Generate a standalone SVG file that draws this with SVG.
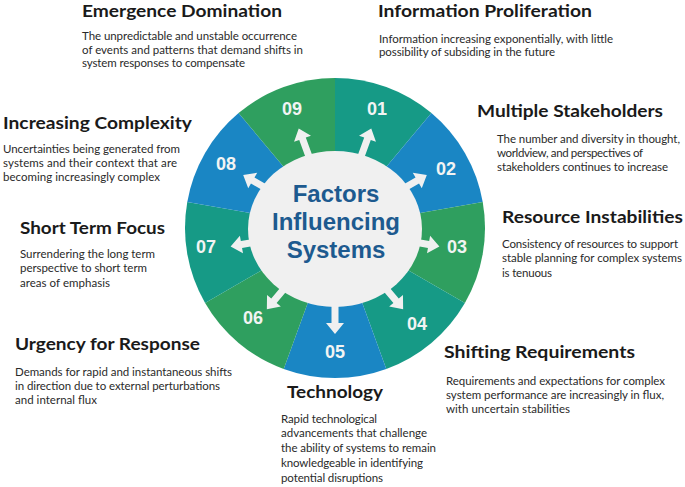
<svg xmlns="http://www.w3.org/2000/svg" width="685" height="487" viewBox="0 0 685 487">
<style>
.teal{fill:#169a86}
.blue{fill:#1a86c4}
.green{fill:#2f9f5f}
.hub{fill:#f0f0f0}
.num{font-family:"Liberation Sans",Arial,sans-serif;font-weight:bold;font-size:18px;fill:#f2f4f3;text-anchor:middle}
.ctr{font-family:"Liberation Sans",Arial,sans-serif;font-weight:bold;font-size:24px;fill:#1d5a8f;text-anchor:middle}
.ttl{font-family:Lato,"Open Sans",sans-serif;font-weight:bold;font-size:17px;fill:#1a1a1a}
.body{font-family:Lato,"Open Sans",sans-serif;font-size:11.5px;fill:#2a2a2a}
</style>
<defs>
<path id="arr" d="M-3.5,-60 L-3.5,-95 L-9,-95 L0,-106 L9,-95 L3.5,-95 L3.5,-60 Z" class="hub"/>
</defs>
<rect width="685" height="487" fill="#ffffff"/>
<g id="wheel">
<path class="teal" d="M335,228 L335,78 A150,150 0 0 1 431.42,113.10 Z"/>
<path class="blue" d="M335,228 L431.42,113.10 A150,150 0 0 1 482.72,201.95 Z"/>
<path class="green" d="M335,228 L482.72,201.95 A150,150 0 0 1 464.90,303 Z"/>
<path class="teal" d="M335,228 L464.90,303 A150,150 0 0 1 386.30,368.95 Z"/>
<path class="blue" d="M335,228 L386.30,368.95 A150,150 0 0 1 283.70,368.95 Z"/>
<path class="green" d="M335,228 L283.70,368.95 A150,150 0 0 1 205.10,303 Z"/>
<path class="teal" d="M335,228 L205.10,303 A150,150 0 0 1 187.28,201.95 Z"/>
<path class="blue" d="M335,228 L187.28,201.95 A150,150 0 0 1 238.58,113.10 Z"/>
<path class="green" d="M335,228 L238.58,113.10 A150,150 0 0 1 335,78 Z"/>
</g>
<g id="connectors">
<use href="#arr" transform="translate(335,228) rotate(20)"/>
<use href="#arr" transform="translate(335,228) rotate(60)"/>
<use href="#arr" transform="translate(335,228) rotate(100)"/>
<use href="#arr" transform="translate(335,228) rotate(140)"/>
<use href="#arr" transform="translate(335,228) rotate(180)"/>
<use href="#arr" transform="translate(335,228) rotate(220)"/>
<use href="#arr" transform="translate(335,228) rotate(260)"/>
<use href="#arr" transform="translate(335,228) rotate(300)"/>
<use href="#arr" transform="translate(335,228) rotate(340)"/>
</g>
<g id="hub">
<ellipse class="hub" cx="335" cy="229" rx="87" ry="78"/>
<text class="ctr" x="336" y="202">Factors</text>
<text class="ctr" x="336" y="230">Influencing</text>
<text class="ctr" x="336" y="258">Systems</text>
</g>
<g id="labels">
<text class="num" x="377" y="114.5">01</text>
<text class="num" x="446" y="174.5">02</text>
<text class="num" x="457" y="253">03</text>
<text class="num" x="417" y="329.5">04</text>
<text class="num" x="335" y="358">05</text>
<text class="num" x="253" y="323.5">06</text>
<text class="num" x="206" y="253">07</text>
<text class="num" x="226" y="169.5">08</text>
<text class="num" x="292" y="114.5">09</text>
</g>
<g id="f09">
<text class="ttl" x="82" y="17" textLength="200" lengthAdjust="spacingAndGlyphs">Emergence Domination</text>
<text class="body" x="82" y="40" textLength="215">The unpredictable and unstable occurrence</text>
<text class="body" x="82" y="54" textLength="221">of events and patterns that demand shifts in</text>
<text class="body" x="82" y="67" textLength="163">system responses to compensate</text>
</g>
<g id="f01">
<text class="ttl" x="378" y="17" textLength="214" lengthAdjust="spacingAndGlyphs">Information Proliferation</text>
<text class="body" x="379" y="43" textLength="234">Information increasing exponentially, with little</text>
<text class="body" x="379" y="56" textLength="176">possibility of subsiding in the future</text>
</g>
<g id="f02">
<text class="ttl" x="477" y="117" textLength="186" lengthAdjust="spacingAndGlyphs">Multiple Stakeholders</text>
<text class="body" x="497" y="143" textLength="183">The number and diversity in thought,</text>
<text class="body" x="497" y="157" textLength="146">worldview, and perspectives of</text>
<text class="body" x="497" y="171" textLength="171">stakeholders continues to increase</text>
</g>
<g id="f03">
<text class="ttl" x="502" y="223" textLength="181" lengthAdjust="spacingAndGlyphs">Resource Instabilities</text>
<text class="body" x="502" y="248" textLength="176">Consistency of resources to support</text>
<text class="body" x="502" y="262" textLength="180">stable planning for complex systems</text>
<text class="body" x="502" y="277" textLength="50">is tenuous</text>
</g>
<g id="f04">
<text class="ttl" x="444" y="358" textLength="191" lengthAdjust="spacingAndGlyphs">Shifting Requirements</text>
<text class="body" x="446" y="385" textLength="219">Requirements and expectations for complex</text>
<text class="body" x="446" y="399" textLength="218">system performance are increasingly in flux,</text>
<text class="body" x="446" y="413" textLength="124">with uncertain stabilities</text>
</g>
<g id="f05">
<text class="ttl" x="287" y="398" textLength="96" lengthAdjust="spacingAndGlyphs">Technology</text>
<text class="body" x="281" y="423" textLength="96">Rapid technological</text>
<text class="body" x="281" y="437" textLength="146">advancements that challenge</text>
<text class="body" x="281" y="452" textLength="155">the ability of systems to remain</text>
<text class="body" x="281" y="467" textLength="142">knowledgeable in identifying</text>
<text class="body" x="281" y="482" textLength="102">potential disruptions</text>
</g>
<g id="f06">
<text class="ttl" x="15" y="350" textLength="185" lengthAdjust="spacingAndGlyphs">Urgency for Response</text>
<text class="body" x="15" y="376" textLength="217">Demands for rapid and instantaneous shifts</text>
<text class="body" x="15" y="390" textLength="205">in direction due to external perturbations</text>
<text class="body" x="15" y="404" textLength="82">and internal flux</text>
</g>
<g id="f07">
<text class="ttl" x="20" y="234" textLength="145" lengthAdjust="spacingAndGlyphs">Short Term Focus</text>
<text class="body" x="20" y="258" textLength="135">Surrendering the long term</text>
<text class="body" x="20" y="272" textLength="127">perspective to short term</text>
<text class="body" x="20" y="287" textLength="90">areas of emphasis</text>
</g>
<g id="f08">
<text class="ttl" x="3" y="129" textLength="189" lengthAdjust="spacingAndGlyphs">Increasing Complexity</text>
<text class="body" x="3" y="153" textLength="177">Uncertainties being generated from</text>
<text class="body" x="3" y="167" textLength="174">systems and their context that are</text>
<text class="body" x="3" y="181" textLength="157">becoming increasingly complex</text>
</g>
</svg>
